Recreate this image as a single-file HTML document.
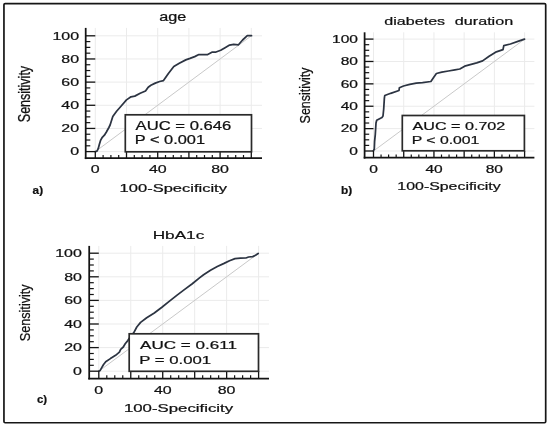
<!DOCTYPE html>
<html><head><meta charset="utf-8"><title>ROC curves</title>
<style>html,body{margin:0;padding:0;background:#fff;}body{width:550px;height:428px;overflow:hidden;}svg{display:block;filter:blur(0.35px);}</style>
</head><body>
<svg width="550" height="428" viewBox="0 0 550 428" font-family="'Liberation Sans', Arial, Helvetica, sans-serif">
<rect x="0" y="0" width="550" height="428" fill="#fff"/>
<line x1="95.30" y1="27.90" x2="95.30" y2="158.20" stroke="#ebebeb" stroke-width="1"/>
<line x1="85.70" y1="151.60" x2="262.00" y2="151.60" stroke="#ebebeb" stroke-width="1"/>
<line x1="126.50" y1="27.90" x2="126.50" y2="158.20" stroke="#ebebeb" stroke-width="1"/>
<line x1="85.70" y1="128.44" x2="262.00" y2="128.44" stroke="#ebebeb" stroke-width="1"/>
<line x1="157.70" y1="27.90" x2="157.70" y2="158.20" stroke="#ebebeb" stroke-width="1"/>
<line x1="85.70" y1="105.28" x2="262.00" y2="105.28" stroke="#ebebeb" stroke-width="1"/>
<line x1="188.90" y1="27.90" x2="188.90" y2="158.20" stroke="#ebebeb" stroke-width="1"/>
<line x1="85.70" y1="82.12" x2="262.00" y2="82.12" stroke="#ebebeb" stroke-width="1"/>
<line x1="220.10" y1="27.90" x2="220.10" y2="158.20" stroke="#ebebeb" stroke-width="1"/>
<line x1="85.70" y1="58.96" x2="262.00" y2="58.96" stroke="#ebebeb" stroke-width="1"/>
<line x1="251.30" y1="27.90" x2="251.30" y2="158.20" stroke="#ebebeb" stroke-width="1"/>
<line x1="85.70" y1="35.80" x2="262.00" y2="35.80" stroke="#ebebeb" stroke-width="1"/>
<line x1="95.30" y1="151.60" x2="251.30" y2="35.80" stroke="#c9c9c9" stroke-width="1"/>
<polyline points="95.30,151.60 97.00,151.20 98.20,148.70 99.40,144.20 100.70,140.10 102.30,137.30 104.40,135.20 106.40,132.00 108.90,127.50 110.10,125.00 112.80,116.60 116.60,111.30 121.20,106.00 126.50,99.90 131.00,96.80 134.80,96.10 140.20,93.30 145.50,91.00 148.20,87.20 150.90,85.30 155.30,83.10 159.60,81.50 163.50,80.60 168.40,73.50 173.80,66.50 179.30,63.20 185.80,59.90 190.00,58.40 194.70,56.60 198.90,54.50 207.70,54.50 211.90,52.20 215.40,52.20 220.70,50.30 225.50,47.50 229.60,45.10 233.70,44.40 238.50,44.80 242.60,40.00 247.30,35.70 251.50,35.70" fill="none" stroke="#2c3442" stroke-width="1.75" stroke-linejoin="round" stroke-linecap="round"/>
<line x1="85.70" y1="151.60" x2="95.30" y2="151.60" stroke="#141414" stroke-width="1.3"/>
<line x1="95.30" y1="158.20" x2="95.30" y2="151.60" stroke="#141414" stroke-width="1.3"/>
<line x1="85.70" y1="145.81" x2="90.30" y2="145.81" stroke="#141414" stroke-width="1.2"/>
<line x1="103.10" y1="158.20" x2="103.10" y2="155.00" stroke="#141414" stroke-width="1.2"/>
<line x1="85.70" y1="140.02" x2="90.30" y2="140.02" stroke="#141414" stroke-width="1.2"/>
<line x1="110.90" y1="158.20" x2="110.90" y2="155.00" stroke="#141414" stroke-width="1.2"/>
<line x1="85.70" y1="134.23" x2="90.30" y2="134.23" stroke="#141414" stroke-width="1.2"/>
<line x1="118.70" y1="158.20" x2="118.70" y2="155.00" stroke="#141414" stroke-width="1.2"/>
<line x1="85.70" y1="128.44" x2="95.30" y2="128.44" stroke="#141414" stroke-width="1.3"/>
<line x1="126.50" y1="158.20" x2="126.50" y2="151.60" stroke="#141414" stroke-width="1.3"/>
<line x1="85.70" y1="122.65" x2="90.30" y2="122.65" stroke="#141414" stroke-width="1.2"/>
<line x1="134.30" y1="158.20" x2="134.30" y2="155.00" stroke="#141414" stroke-width="1.2"/>
<line x1="85.70" y1="116.86" x2="90.30" y2="116.86" stroke="#141414" stroke-width="1.2"/>
<line x1="142.10" y1="158.20" x2="142.10" y2="155.00" stroke="#141414" stroke-width="1.2"/>
<line x1="85.70" y1="111.07" x2="90.30" y2="111.07" stroke="#141414" stroke-width="1.2"/>
<line x1="149.90" y1="158.20" x2="149.90" y2="155.00" stroke="#141414" stroke-width="1.2"/>
<line x1="85.70" y1="105.28" x2="95.30" y2="105.28" stroke="#141414" stroke-width="1.3"/>
<line x1="157.70" y1="158.20" x2="157.70" y2="151.60" stroke="#141414" stroke-width="1.3"/>
<line x1="85.70" y1="99.49" x2="90.30" y2="99.49" stroke="#141414" stroke-width="1.2"/>
<line x1="165.50" y1="158.20" x2="165.50" y2="155.00" stroke="#141414" stroke-width="1.2"/>
<line x1="85.70" y1="93.70" x2="90.30" y2="93.70" stroke="#141414" stroke-width="1.2"/>
<line x1="173.30" y1="158.20" x2="173.30" y2="155.00" stroke="#141414" stroke-width="1.2"/>
<line x1="85.70" y1="87.91" x2="90.30" y2="87.91" stroke="#141414" stroke-width="1.2"/>
<line x1="181.10" y1="158.20" x2="181.10" y2="155.00" stroke="#141414" stroke-width="1.2"/>
<line x1="85.70" y1="82.12" x2="95.30" y2="82.12" stroke="#141414" stroke-width="1.3"/>
<line x1="188.90" y1="158.20" x2="188.90" y2="151.60" stroke="#141414" stroke-width="1.3"/>
<line x1="85.70" y1="76.33" x2="90.30" y2="76.33" stroke="#141414" stroke-width="1.2"/>
<line x1="196.70" y1="158.20" x2="196.70" y2="155.00" stroke="#141414" stroke-width="1.2"/>
<line x1="85.70" y1="70.54" x2="90.30" y2="70.54" stroke="#141414" stroke-width="1.2"/>
<line x1="204.50" y1="158.20" x2="204.50" y2="155.00" stroke="#141414" stroke-width="1.2"/>
<line x1="85.70" y1="64.75" x2="90.30" y2="64.75" stroke="#141414" stroke-width="1.2"/>
<line x1="212.30" y1="158.20" x2="212.30" y2="155.00" stroke="#141414" stroke-width="1.2"/>
<line x1="85.70" y1="58.96" x2="95.30" y2="58.96" stroke="#141414" stroke-width="1.3"/>
<line x1="220.10" y1="158.20" x2="220.10" y2="151.60" stroke="#141414" stroke-width="1.3"/>
<line x1="85.70" y1="53.17" x2="90.30" y2="53.17" stroke="#141414" stroke-width="1.2"/>
<line x1="227.90" y1="158.20" x2="227.90" y2="155.00" stroke="#141414" stroke-width="1.2"/>
<line x1="85.70" y1="47.38" x2="90.30" y2="47.38" stroke="#141414" stroke-width="1.2"/>
<line x1="235.70" y1="158.20" x2="235.70" y2="155.00" stroke="#141414" stroke-width="1.2"/>
<line x1="85.70" y1="41.59" x2="90.30" y2="41.59" stroke="#141414" stroke-width="1.2"/>
<line x1="243.50" y1="158.20" x2="243.50" y2="155.00" stroke="#141414" stroke-width="1.2"/>
<line x1="85.70" y1="35.80" x2="95.30" y2="35.80" stroke="#141414" stroke-width="1.3"/>
<line x1="251.30" y1="158.20" x2="251.30" y2="151.60" stroke="#141414" stroke-width="1.3"/>
<line x1="85.70" y1="27.90" x2="85.70" y2="159.10" stroke="#141414" stroke-width="1.75"/>
<line x1="84.80" y1="158.20" x2="262.00" y2="158.20" stroke="#141414" stroke-width="1.75"/>
<rect x="125.30" y="114.80" width="126.20" height="37.00" fill="#fff" stroke="#2a2a2a" stroke-width="1.7"/>
<text transform="translate(159.16,21.40) scale(1.3533,1)" font-size="12.0" font-weight="normal" fill="#111" stroke="#111" stroke-width="0.22">age</text>
<text transform="translate(70.20,155.49) scale(1.4500,1)" font-size="11.0" fill="#111" stroke="#111" stroke-width="0.22">0</text>
<text transform="translate(61.34,132.33) scale(1.4500,1)" font-size="11.0" fill="#111" stroke="#111" stroke-width="0.22">20</text>
<text transform="translate(61.34,109.17) scale(1.4500,1)" font-size="11.0" fill="#111" stroke="#111" stroke-width="0.22">40</text>
<text transform="translate(61.34,86.01) scale(1.4500,1)" font-size="11.0" fill="#111" stroke="#111" stroke-width="0.22">60</text>
<text transform="translate(61.34,62.85) scale(1.4500,1)" font-size="11.0" fill="#111" stroke="#111" stroke-width="0.22">80</text>
<text transform="translate(52.45,39.69) scale(1.4500,1)" font-size="11.0" fill="#111" stroke="#111" stroke-width="0.22">100</text>
<text transform="translate(90.85,173.00) scale(1.4500,1)" font-size="11.0" fill="#111" stroke="#111" stroke-width="0.22">0</text>
<text transform="translate(148.97,173.00) scale(1.4500,1)" font-size="11.0" fill="#111" stroke="#111" stroke-width="0.22">40</text>
<text transform="translate(211.21,173.00) scale(1.4500,1)" font-size="11.0" fill="#111" stroke="#111" stroke-width="0.22">80</text>
<text transform="translate(119.61,191.70) scale(1.5150,1)" font-size="10.9" font-weight="normal" fill="#111" stroke="#111" stroke-width="0.22">100-Specificity</text>
<text transform="translate(29.55,122.21) scale(1.2444,1) rotate(-90)" font-size="12.525" fill="#111" stroke="#111" stroke-width="0.22">Sensitivity</text>
<text transform="translate(32.60,193.80) scale(1.0504,1)" font-size="11.2" font-weight="bold" fill="#111" stroke="#111" stroke-width="0.22">a)</text>
<text transform="translate(135.61,129.60) scale(1.3871,1)" font-size="12.0" font-weight="normal" fill="#111" stroke="#111" stroke-width="0.22">AUC = 0.646</text>
<text transform="translate(134.80,144.00) scale(1.3642,1)" font-size="12.0" font-weight="normal" fill="#111" stroke="#111" stroke-width="0.22">P &lt; 0.001</text>
<line x1="373.50" y1="32.30" x2="373.50" y2="157.70" stroke="#ebebeb" stroke-width="1"/>
<line x1="364.60" y1="151.00" x2="534.40" y2="151.00" stroke="#ebebeb" stroke-width="1"/>
<line x1="403.72" y1="32.30" x2="403.72" y2="157.70" stroke="#ebebeb" stroke-width="1"/>
<line x1="364.60" y1="128.62" x2="534.40" y2="128.62" stroke="#ebebeb" stroke-width="1"/>
<line x1="433.94" y1="32.30" x2="433.94" y2="157.70" stroke="#ebebeb" stroke-width="1"/>
<line x1="364.60" y1="106.24" x2="534.40" y2="106.24" stroke="#ebebeb" stroke-width="1"/>
<line x1="464.16" y1="32.30" x2="464.16" y2="157.70" stroke="#ebebeb" stroke-width="1"/>
<line x1="364.60" y1="83.86" x2="534.40" y2="83.86" stroke="#ebebeb" stroke-width="1"/>
<line x1="494.38" y1="32.30" x2="494.38" y2="157.70" stroke="#ebebeb" stroke-width="1"/>
<line x1="364.60" y1="61.48" x2="534.40" y2="61.48" stroke="#ebebeb" stroke-width="1"/>
<line x1="524.60" y1="32.30" x2="524.60" y2="157.70" stroke="#ebebeb" stroke-width="1"/>
<line x1="364.60" y1="39.10" x2="534.40" y2="39.10" stroke="#ebebeb" stroke-width="1"/>
<line x1="373.50" y1="151.00" x2="524.60" y2="39.10" stroke="#c9c9c9" stroke-width="1"/>
<polyline points="373.50,150.60 374.30,149.00 374.60,141.30 375.30,134.30 376.00,123.00 376.70,120.20 382.00,117.40 383.00,116.00 383.70,109.00 384.40,97.80 384.80,95.50 390.70,93.30 399.00,90.50 399.40,87.70 403.50,86.00 409.80,84.30 416.20,83.20 422.50,82.60 430.90,81.50 433.60,77.40 436.40,73.50 441.80,72.20 448.40,71.00 454.90,69.90 459.80,69.00 464.70,66.20 470.20,64.60 476.70,62.90 482.60,60.90 489.10,56.30 495.60,52.20 503.00,49.70 503.80,45.60 510.40,44.00 518.60,41.20 524.50,39.10" fill="none" stroke="#2c3442" stroke-width="1.75" stroke-linejoin="round" stroke-linecap="round"/>
<line x1="364.60" y1="151.00" x2="373.50" y2="151.00" stroke="#141414" stroke-width="1.3"/>
<line x1="373.50" y1="157.70" x2="373.50" y2="151.00" stroke="#141414" stroke-width="1.3"/>
<line x1="364.60" y1="145.41" x2="369.20" y2="145.41" stroke="#141414" stroke-width="1.2"/>
<line x1="381.06" y1="157.70" x2="381.06" y2="154.50" stroke="#141414" stroke-width="1.2"/>
<line x1="364.60" y1="139.81" x2="369.20" y2="139.81" stroke="#141414" stroke-width="1.2"/>
<line x1="388.61" y1="157.70" x2="388.61" y2="154.50" stroke="#141414" stroke-width="1.2"/>
<line x1="364.60" y1="134.22" x2="369.20" y2="134.22" stroke="#141414" stroke-width="1.2"/>
<line x1="396.17" y1="157.70" x2="396.17" y2="154.50" stroke="#141414" stroke-width="1.2"/>
<line x1="364.60" y1="128.62" x2="373.50" y2="128.62" stroke="#141414" stroke-width="1.3"/>
<line x1="403.72" y1="157.70" x2="403.72" y2="151.00" stroke="#141414" stroke-width="1.3"/>
<line x1="364.60" y1="123.03" x2="369.20" y2="123.03" stroke="#141414" stroke-width="1.2"/>
<line x1="411.27" y1="157.70" x2="411.27" y2="154.50" stroke="#141414" stroke-width="1.2"/>
<line x1="364.60" y1="117.43" x2="369.20" y2="117.43" stroke="#141414" stroke-width="1.2"/>
<line x1="418.83" y1="157.70" x2="418.83" y2="154.50" stroke="#141414" stroke-width="1.2"/>
<line x1="364.60" y1="111.84" x2="369.20" y2="111.84" stroke="#141414" stroke-width="1.2"/>
<line x1="426.38" y1="157.70" x2="426.38" y2="154.50" stroke="#141414" stroke-width="1.2"/>
<line x1="364.60" y1="106.24" x2="373.50" y2="106.24" stroke="#141414" stroke-width="1.3"/>
<line x1="433.94" y1="157.70" x2="433.94" y2="151.00" stroke="#141414" stroke-width="1.3"/>
<line x1="364.60" y1="100.65" x2="369.20" y2="100.65" stroke="#141414" stroke-width="1.2"/>
<line x1="441.50" y1="157.70" x2="441.50" y2="154.50" stroke="#141414" stroke-width="1.2"/>
<line x1="364.60" y1="95.05" x2="369.20" y2="95.05" stroke="#141414" stroke-width="1.2"/>
<line x1="449.05" y1="157.70" x2="449.05" y2="154.50" stroke="#141414" stroke-width="1.2"/>
<line x1="364.60" y1="89.45" x2="369.20" y2="89.45" stroke="#141414" stroke-width="1.2"/>
<line x1="456.61" y1="157.70" x2="456.61" y2="154.50" stroke="#141414" stroke-width="1.2"/>
<line x1="364.60" y1="83.86" x2="373.50" y2="83.86" stroke="#141414" stroke-width="1.3"/>
<line x1="464.16" y1="157.70" x2="464.16" y2="151.00" stroke="#141414" stroke-width="1.3"/>
<line x1="364.60" y1="78.27" x2="369.20" y2="78.27" stroke="#141414" stroke-width="1.2"/>
<line x1="471.72" y1="157.70" x2="471.72" y2="154.50" stroke="#141414" stroke-width="1.2"/>
<line x1="364.60" y1="72.67" x2="369.20" y2="72.67" stroke="#141414" stroke-width="1.2"/>
<line x1="479.27" y1="157.70" x2="479.27" y2="154.50" stroke="#141414" stroke-width="1.2"/>
<line x1="364.60" y1="67.08" x2="369.20" y2="67.08" stroke="#141414" stroke-width="1.2"/>
<line x1="486.83" y1="157.70" x2="486.83" y2="154.50" stroke="#141414" stroke-width="1.2"/>
<line x1="364.60" y1="61.48" x2="373.50" y2="61.48" stroke="#141414" stroke-width="1.3"/>
<line x1="494.38" y1="157.70" x2="494.38" y2="151.00" stroke="#141414" stroke-width="1.3"/>
<line x1="364.60" y1="55.89" x2="369.20" y2="55.89" stroke="#141414" stroke-width="1.2"/>
<line x1="501.94" y1="157.70" x2="501.94" y2="154.50" stroke="#141414" stroke-width="1.2"/>
<line x1="364.60" y1="50.29" x2="369.20" y2="50.29" stroke="#141414" stroke-width="1.2"/>
<line x1="509.49" y1="157.70" x2="509.49" y2="154.50" stroke="#141414" stroke-width="1.2"/>
<line x1="364.60" y1="44.69" x2="369.20" y2="44.69" stroke="#141414" stroke-width="1.2"/>
<line x1="517.05" y1="157.70" x2="517.05" y2="154.50" stroke="#141414" stroke-width="1.2"/>
<line x1="364.60" y1="39.10" x2="373.50" y2="39.10" stroke="#141414" stroke-width="1.3"/>
<line x1="524.60" y1="157.70" x2="524.60" y2="151.00" stroke="#141414" stroke-width="1.3"/>
<line x1="364.60" y1="32.30" x2="364.60" y2="158.60" stroke="#141414" stroke-width="1.75"/>
<line x1="363.70" y1="157.70" x2="534.40" y2="157.70" stroke="#141414" stroke-width="1.75"/>
<rect x="402.30" y="115.50" width="122.10" height="35.30" fill="#fff" stroke="#2a2a2a" stroke-width="1.7"/>
<text transform="translate(384.37,25.20) scale(1.4609,1)" font-size="11.0" font-weight="normal" fill="#111" stroke="#111" stroke-width="0.22">diabetes</text>
<text transform="translate(454.86,25.20) scale(1.4680,1)" font-size="11.0" font-weight="normal" fill="#111" stroke="#111" stroke-width="0.22">duration</text>
<text transform="translate(349.32,154.79) scale(1.4500,1)" font-size="10.7" fill="#111" stroke="#111" stroke-width="0.22">0</text>
<text transform="translate(340.71,132.41) scale(1.4500,1)" font-size="10.7" fill="#111" stroke="#111" stroke-width="0.22">20</text>
<text transform="translate(340.71,110.03) scale(1.4500,1)" font-size="10.7" fill="#111" stroke="#111" stroke-width="0.22">40</text>
<text transform="translate(340.71,87.65) scale(1.4500,1)" font-size="10.7" fill="#111" stroke="#111" stroke-width="0.22">60</text>
<text transform="translate(340.71,65.27) scale(1.4500,1)" font-size="10.7" fill="#111" stroke="#111" stroke-width="0.22">80</text>
<text transform="translate(332.06,42.89) scale(1.4500,1)" font-size="10.7" fill="#111" stroke="#111" stroke-width="0.22">100</text>
<text transform="translate(369.18,172.50) scale(1.4500,1)" font-size="10.7" fill="#111" stroke="#111" stroke-width="0.22">0</text>
<text transform="translate(425.45,172.50) scale(1.4500,1)" font-size="10.7" fill="#111" stroke="#111" stroke-width="0.22">40</text>
<text transform="translate(485.73,172.50) scale(1.4500,1)" font-size="10.7" fill="#111" stroke="#111" stroke-width="0.22">80</text>
<text transform="translate(397.36,190.40) scale(1.4593,1)" font-size="10.9" font-weight="normal" fill="#111" stroke="#111" stroke-width="0.22">100-Specificity</text>
<text transform="translate(309.95,123.41) scale(1.1757,1) rotate(-90)" font-size="12.435" fill="#111" stroke="#111" stroke-width="0.22">Sensitivity</text>
<text transform="translate(341.08,194.40) scale(1.0574,1)" font-size="11.2" font-weight="bold" fill="#111" stroke="#111" stroke-width="0.22">b)</text>
<text transform="translate(412.51,130.00) scale(1.4283,1)" font-size="11.3" font-weight="normal" fill="#111" stroke="#111" stroke-width="0.22">AUC = 0.702</text>
<text transform="translate(411.75,143.90) scale(1.3955,1)" font-size="11.3" font-weight="normal" fill="#111" stroke="#111" stroke-width="0.22">P &lt; 0.001</text>
<line x1="98.80" y1="245.90" x2="98.80" y2="378.50" stroke="#ebebeb" stroke-width="1"/>
<line x1="89.20" y1="371.20" x2="269.00" y2="371.20" stroke="#ebebeb" stroke-width="1"/>
<line x1="130.76" y1="245.90" x2="130.76" y2="378.50" stroke="#ebebeb" stroke-width="1"/>
<line x1="89.20" y1="347.60" x2="269.00" y2="347.60" stroke="#ebebeb" stroke-width="1"/>
<line x1="162.72" y1="245.90" x2="162.72" y2="378.50" stroke="#ebebeb" stroke-width="1"/>
<line x1="89.20" y1="324.00" x2="269.00" y2="324.00" stroke="#ebebeb" stroke-width="1"/>
<line x1="194.68" y1="245.90" x2="194.68" y2="378.50" stroke="#ebebeb" stroke-width="1"/>
<line x1="89.20" y1="300.40" x2="269.00" y2="300.40" stroke="#ebebeb" stroke-width="1"/>
<line x1="226.64" y1="245.90" x2="226.64" y2="378.50" stroke="#ebebeb" stroke-width="1"/>
<line x1="89.20" y1="276.80" x2="269.00" y2="276.80" stroke="#ebebeb" stroke-width="1"/>
<line x1="258.60" y1="245.90" x2="258.60" y2="378.50" stroke="#ebebeb" stroke-width="1"/>
<line x1="89.20" y1="253.20" x2="269.00" y2="253.20" stroke="#ebebeb" stroke-width="1"/>
<line x1="98.80" y1="371.20" x2="258.60" y2="253.20" stroke="#c9c9c9" stroke-width="1"/>
<polyline points="98.80,371.20 100.20,370.40 101.60,367.90 103.40,364.70 105.70,361.80 110.40,358.60 115.60,355.30 119.40,352.10 120.70,349.30 123.30,347.00 125.20,343.80 127.80,340.60 130.50,336.50 133.80,332.60 136.80,327.00 140.60,322.40 146.70,317.80 154.30,313.00 161.90,307.20 169.50,301.10 177.10,295.10 184.70,289.40 192.30,283.70 199.80,277.60 203.60,274.70 210.50,270.20 217.30,266.50 224.10,263.40 229.50,260.70 235.00,258.60 240.50,258.20 245.90,258.00 248.60,257.00 252.70,256.60 255.50,255.20 258.20,253.50" fill="none" stroke="#2c3442" stroke-width="1.75" stroke-linejoin="round" stroke-linecap="round"/>
<line x1="89.20" y1="371.20" x2="98.80" y2="371.20" stroke="#141414" stroke-width="1.3"/>
<line x1="98.80" y1="378.50" x2="98.80" y2="371.20" stroke="#141414" stroke-width="1.3"/>
<line x1="89.20" y1="365.30" x2="93.80" y2="365.30" stroke="#141414" stroke-width="1.2"/>
<line x1="106.79" y1="378.50" x2="106.79" y2="375.30" stroke="#141414" stroke-width="1.2"/>
<line x1="89.20" y1="359.40" x2="93.80" y2="359.40" stroke="#141414" stroke-width="1.2"/>
<line x1="114.78" y1="378.50" x2="114.78" y2="375.30" stroke="#141414" stroke-width="1.2"/>
<line x1="89.20" y1="353.50" x2="93.80" y2="353.50" stroke="#141414" stroke-width="1.2"/>
<line x1="122.77" y1="378.50" x2="122.77" y2="375.30" stroke="#141414" stroke-width="1.2"/>
<line x1="89.20" y1="347.60" x2="98.80" y2="347.60" stroke="#141414" stroke-width="1.3"/>
<line x1="130.76" y1="378.50" x2="130.76" y2="371.20" stroke="#141414" stroke-width="1.3"/>
<line x1="89.20" y1="341.70" x2="93.80" y2="341.70" stroke="#141414" stroke-width="1.2"/>
<line x1="138.75" y1="378.50" x2="138.75" y2="375.30" stroke="#141414" stroke-width="1.2"/>
<line x1="89.20" y1="335.80" x2="93.80" y2="335.80" stroke="#141414" stroke-width="1.2"/>
<line x1="146.74" y1="378.50" x2="146.74" y2="375.30" stroke="#141414" stroke-width="1.2"/>
<line x1="89.20" y1="329.90" x2="93.80" y2="329.90" stroke="#141414" stroke-width="1.2"/>
<line x1="154.73" y1="378.50" x2="154.73" y2="375.30" stroke="#141414" stroke-width="1.2"/>
<line x1="89.20" y1="324.00" x2="98.80" y2="324.00" stroke="#141414" stroke-width="1.3"/>
<line x1="162.72" y1="378.50" x2="162.72" y2="371.20" stroke="#141414" stroke-width="1.3"/>
<line x1="89.20" y1="318.10" x2="93.80" y2="318.10" stroke="#141414" stroke-width="1.2"/>
<line x1="170.71" y1="378.50" x2="170.71" y2="375.30" stroke="#141414" stroke-width="1.2"/>
<line x1="89.20" y1="312.20" x2="93.80" y2="312.20" stroke="#141414" stroke-width="1.2"/>
<line x1="178.70" y1="378.50" x2="178.70" y2="375.30" stroke="#141414" stroke-width="1.2"/>
<line x1="89.20" y1="306.30" x2="93.80" y2="306.30" stroke="#141414" stroke-width="1.2"/>
<line x1="186.69" y1="378.50" x2="186.69" y2="375.30" stroke="#141414" stroke-width="1.2"/>
<line x1="89.20" y1="300.40" x2="98.80" y2="300.40" stroke="#141414" stroke-width="1.3"/>
<line x1="194.68" y1="378.50" x2="194.68" y2="371.20" stroke="#141414" stroke-width="1.3"/>
<line x1="89.20" y1="294.50" x2="93.80" y2="294.50" stroke="#141414" stroke-width="1.2"/>
<line x1="202.67" y1="378.50" x2="202.67" y2="375.30" stroke="#141414" stroke-width="1.2"/>
<line x1="89.20" y1="288.60" x2="93.80" y2="288.60" stroke="#141414" stroke-width="1.2"/>
<line x1="210.66" y1="378.50" x2="210.66" y2="375.30" stroke="#141414" stroke-width="1.2"/>
<line x1="89.20" y1="282.70" x2="93.80" y2="282.70" stroke="#141414" stroke-width="1.2"/>
<line x1="218.65" y1="378.50" x2="218.65" y2="375.30" stroke="#141414" stroke-width="1.2"/>
<line x1="89.20" y1="276.80" x2="98.80" y2="276.80" stroke="#141414" stroke-width="1.3"/>
<line x1="226.64" y1="378.50" x2="226.64" y2="371.20" stroke="#141414" stroke-width="1.3"/>
<line x1="89.20" y1="270.90" x2="93.80" y2="270.90" stroke="#141414" stroke-width="1.2"/>
<line x1="234.63" y1="378.50" x2="234.63" y2="375.30" stroke="#141414" stroke-width="1.2"/>
<line x1="89.20" y1="265.00" x2="93.80" y2="265.00" stroke="#141414" stroke-width="1.2"/>
<line x1="242.62" y1="378.50" x2="242.62" y2="375.30" stroke="#141414" stroke-width="1.2"/>
<line x1="89.20" y1="259.10" x2="93.80" y2="259.10" stroke="#141414" stroke-width="1.2"/>
<line x1="250.61" y1="378.50" x2="250.61" y2="375.30" stroke="#141414" stroke-width="1.2"/>
<line x1="89.20" y1="253.20" x2="98.80" y2="253.20" stroke="#141414" stroke-width="1.3"/>
<line x1="258.60" y1="378.50" x2="258.60" y2="371.20" stroke="#141414" stroke-width="1.3"/>
<line x1="89.20" y1="245.90" x2="89.20" y2="379.40" stroke="#141414" stroke-width="1.75"/>
<line x1="88.30" y1="378.50" x2="269.00" y2="378.50" stroke="#141414" stroke-width="1.75"/>
<rect x="129.20" y="333.80" width="129.30" height="37.50" fill="#fff" stroke="#2a2a2a" stroke-width="1.7"/>
<text transform="translate(152.63,238.50) scale(1.4591,1)" font-size="11.8" font-weight="normal" fill="#111" stroke="#111" stroke-width="0.22">HbA1c</text>
<text transform="translate(73.00,375.09) scale(1.4500,1)" font-size="11.0" fill="#111" stroke="#111" stroke-width="0.22">0</text>
<text transform="translate(64.14,351.49) scale(1.4500,1)" font-size="11.0" fill="#111" stroke="#111" stroke-width="0.22">20</text>
<text transform="translate(64.14,327.89) scale(1.4500,1)" font-size="11.0" fill="#111" stroke="#111" stroke-width="0.22">40</text>
<text transform="translate(64.14,304.29) scale(1.4500,1)" font-size="11.0" fill="#111" stroke="#111" stroke-width="0.22">60</text>
<text transform="translate(64.14,280.69) scale(1.4500,1)" font-size="11.0" fill="#111" stroke="#111" stroke-width="0.22">80</text>
<text transform="translate(55.25,257.09) scale(1.4500,1)" font-size="11.0" fill="#111" stroke="#111" stroke-width="0.22">100</text>
<text transform="translate(94.35,394.00) scale(1.4500,1)" font-size="11.0" fill="#111" stroke="#111" stroke-width="0.22">0</text>
<text transform="translate(153.99,394.00) scale(1.4500,1)" font-size="11.0" fill="#111" stroke="#111" stroke-width="0.22">40</text>
<text transform="translate(217.75,394.00) scale(1.4500,1)" font-size="11.0" fill="#111" stroke="#111" stroke-width="0.22">80</text>
<text transform="translate(123.89,412.20) scale(1.5421,1)" font-size="10.9" font-weight="normal" fill="#111" stroke="#111" stroke-width="0.22">100-Specificity</text>
<text transform="translate(30.35,341.22) scale(1.1242,1) rotate(-90)" font-size="12.637" fill="#111" stroke="#111" stroke-width="0.22">Sensitivity</text>
<text transform="translate(36.89,402.60) scale(1.0188,1)" font-size="11.2" font-weight="bold" fill="#111" stroke="#111" stroke-width="0.22">c)</text>
<text transform="translate(140.11,348.90) scale(1.4706,1)" font-size="11.6" font-weight="normal" fill="#111" stroke="#111" stroke-width="0.22">AUC = 0.611</text>
<text transform="translate(139.27,363.80) scale(1.4444,1)" font-size="11.6" font-weight="normal" fill="#111" stroke="#111" stroke-width="0.22">P = 0.001</text>
<rect x="3.95" y="3.65" width="541.75" height="419.1" rx="1.2" fill="none" stroke="#161616" stroke-width="1.7"/>
</svg>
</body></html>
